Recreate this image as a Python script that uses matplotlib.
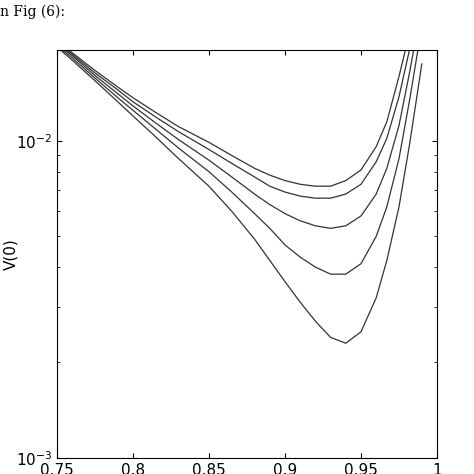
import matplotlib
matplotlib.use("Agg")
import matplotlib.pyplot as plt
from matplotlib.ticker import FixedLocator, NullFormatter

# values (x = u, y = V(0))
u = [0.75, 0.76, 0.775, 0.79, 0.8, 0.815, 0.83, 0.85, 0.865, 0.88, 0.89,
     0.9, 0.91, 0.92, 0.93, 0.94, 0.95, 0.96, 0.967, 0.975, 0.982, 0.99]
v1 = [0.0206, 0.0190, 0.0167, 0.0148, 0.0137, 0.0123, 0.0111, 0.0099, 0.0090, 0.0082, 0.0078,
      0.0075, 0.0073, 0.0072, 0.0072, 0.0075, 0.0081, 0.0096, 0.0115, 0.0160, 0.0220, 0.0330]
v2 = [0.0204, 0.0188, 0.0164, 0.0145, 0.0133, 0.0119, 0.0107, 0.0094, 0.0085, 0.0077, 0.0072,
      0.0069, 0.0067, 0.0066, 0.0066, 0.0068, 0.0073, 0.0086, 0.0102, 0.0138, 0.0195, 0.0300]
v3 = [0.0202, 0.0186, 0.0161, 0.0141, 0.0129, 0.0114, 0.0101, 0.0087, 0.0077, 0.0068, 0.0063,
      0.0059, 0.0056, 0.0054, 0.0053, 0.0054, 0.0058, 0.0068, 0.0082, 0.0112, 0.0165, 0.0270]
v4 = [0.0200, 0.0183, 0.0158, 0.0137, 0.0125, 0.0109, 0.0095, 0.0080, 0.0069, 0.0059, 0.0053,
      0.0047, 0.0043, 0.0040, 0.0038, 0.0038, 0.0041, 0.0050, 0.0062, 0.0088, 0.0135, 0.0230]
v5 = [0.0198, 0.0180, 0.0155, 0.0133, 0.0120, 0.0103, 0.0088, 0.0072, 0.0060, 0.0049, 0.0042,
      0.0036, 0.0031, 0.0027, 0.0024, 0.0023, 0.0025, 0.0032, 0.0042, 0.0062, 0.0098, 0.0175]

fig = plt.figure(figsize=(4.74, 4.74), dpi=100)
ax = fig.add_axes([0.120, 0.034, 0.802, 0.861])
for v in (v1, v2, v3, v4, v5):
    ax.plot(u, v, color="#333333", lw=0.9)

ax.set_yscale("log")
ax.set_xlim(0.75, 1.0)
ax.set_ylim(1e-3, 0.0194)
ax.set_xticks([0.75, 0.8, 0.85, 0.9, 0.95, 1.0])
ax.set_xticklabels(["0.75", "0.8", "0.85", "0.9", "0.95", "1"])
ax.yaxis.set_minor_locator(FixedLocator([k * 1e-3 for k in range(2, 10)]))
ax.yaxis.set_minor_formatter(NullFormatter())
ax.tick_params(which="both", direction="in", top=True, right=True, labelsize=11)
ax.set_ylabel("V(0)", fontsize=11, labelpad=-2)
ax.set_xlabel("u", fontsize=11, labelpad=0)
fig.text(0.0, 0.975, "n Fig (6):", fontsize=10, family="DejaVu Serif", va="center")

fig.savefig("out.png")
